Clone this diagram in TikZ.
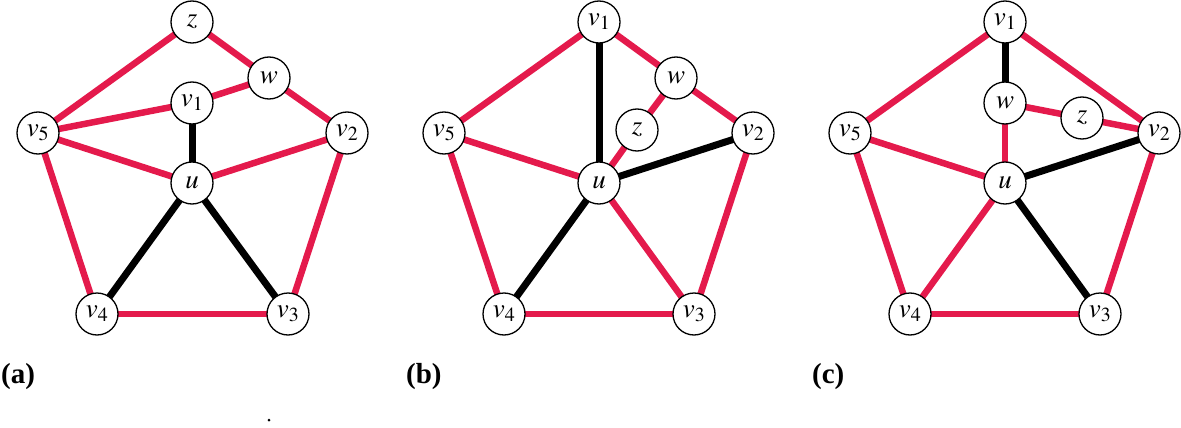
\documentclass[tikz,border=0pt]{standalone}
\usepackage{mathptmx}
\usepackage[no-math]{fontspec}
\setmainfont{Liberation Serif}
\usetikzlibrary{backgrounds}
\definecolor{edgered}{RGB}{228,26,76}
\tikzset{
 vert/.style={circle,draw=black,line width=1.3pt,fill=white,minimum size=42pt,inner sep=0pt,font=\fontsize{27}{32}\selectfont},
 redge/.style={draw=edgered,line width=6.5pt},
 bedge/.style={draw=black,line width=7pt},
 panellabel/.style={font=\fontsize{29}{34}\selectfont\bfseries,inner sep=0pt,anchor=west}
}
\begin{document}
\begin{tikzpicture}[x=1pt,y=-1pt]
\useasboundingbox (0,0) rectangle (1181,428);
% panel (a)
\node[vert] (az) at (192,22) {$z$};
\node[vert] (aw) at (269,78) {$w$};
\node[vert] (av1) at (192,103) {$v_1$};
\node[vert] (av5) at (38,133) {$v_5$};
\node[vert] (av2) at (347,133) {$v_2$};
\node[vert] (au) at (192,183) {$u$};
\node[vert] (av4) at (97,314) {$v_4$};
\node[vert] (av3) at (288,314) {$v_3$};
\node[panellabel] (la) at (1,377) {(a)};
\node[circle,fill=black,inner sep=0pt,minimum size=3pt] (dot) at (269,420) {};
% panel (b)
\node[vert] (bv1) at (599,22) {$v_1$};
\node[vert] (bw) at (676,78) {$w$};
\node[vert] (bz) at (637,130) {$z$};
\node[vert] (bv5) at (444,133) {$v_5$};
\node[vert] (bv2) at (753,133) {$v_2$};
\node[vert] (bu) at (599,183) {$u$};
\node[vert] (bv4) at (504,314) {$v_4$};
\node[vert] (bv3) at (694,314) {$v_3$};
\node[panellabel] (lb) at (406,377) {(b)};
% panel (c)
\node[vert] (cv1) at (1005,22) {$v_1$};
\node[vert] (cw) at (1005,103) {$w$};
\node[vert] (cz) at (1082,118) {$z$};
\node[vert] (cv5) at (850,133) {$v_5$};
\node[vert] (cv2) at (1159,133) {$v_2$};
\node[vert] (cu) at (1005,183) {$u$};
\node[vert] (cv4) at (910,314) {$v_4$};
\node[vert] (cv3) at (1100,314) {$v_3$};
\node[panellabel] (lc) at (812,377) {(c)};
\begin{scope}[on background layer]
% (a)
\foreach \p/\q in {az/av5,az/aw,aw/av1,aw/av2,av1/av5,av5/au,au/av2,av5/av4,av4/av3,av3/av2}
  \path[redge] (\p.center) -- (\q.center);
\foreach \p/\q in {av1/au,au/av4,au/av3}
  \path[bedge] (\p.center) -- (\q.center);
% (b)
\foreach \p/\q in {bv1/bv5,bv1/bw,bw/bv2,bw/bz,bz/bu,bv5/bu,bv5/bv4,bv4/bv3,bv3/bv2,bu/bv3}
  \path[redge] (\p.center) -- (\q.center);
\foreach \p/\q in {bv1/bu,bu/bv2,bu/bv4}
  \path[bedge] (\p.center) -- (\q.center);
% (c)
\foreach \p/\q in {cv1/cv5,cv1/cv2,cw/cz,cz/cv2,cw/cu,cv5/cu,cv5/cv4,cv4/cv3,cv3/cv2,cu/cv4}
  \path[redge] (\p.center) -- (\q.center);
\foreach \p/\q in {cv1/cw,cu/cv2,cu/cv3}
  \path[bedge] (\p.center) -- (\q.center);
\end{scope}
\end{tikzpicture}
\end{document}
